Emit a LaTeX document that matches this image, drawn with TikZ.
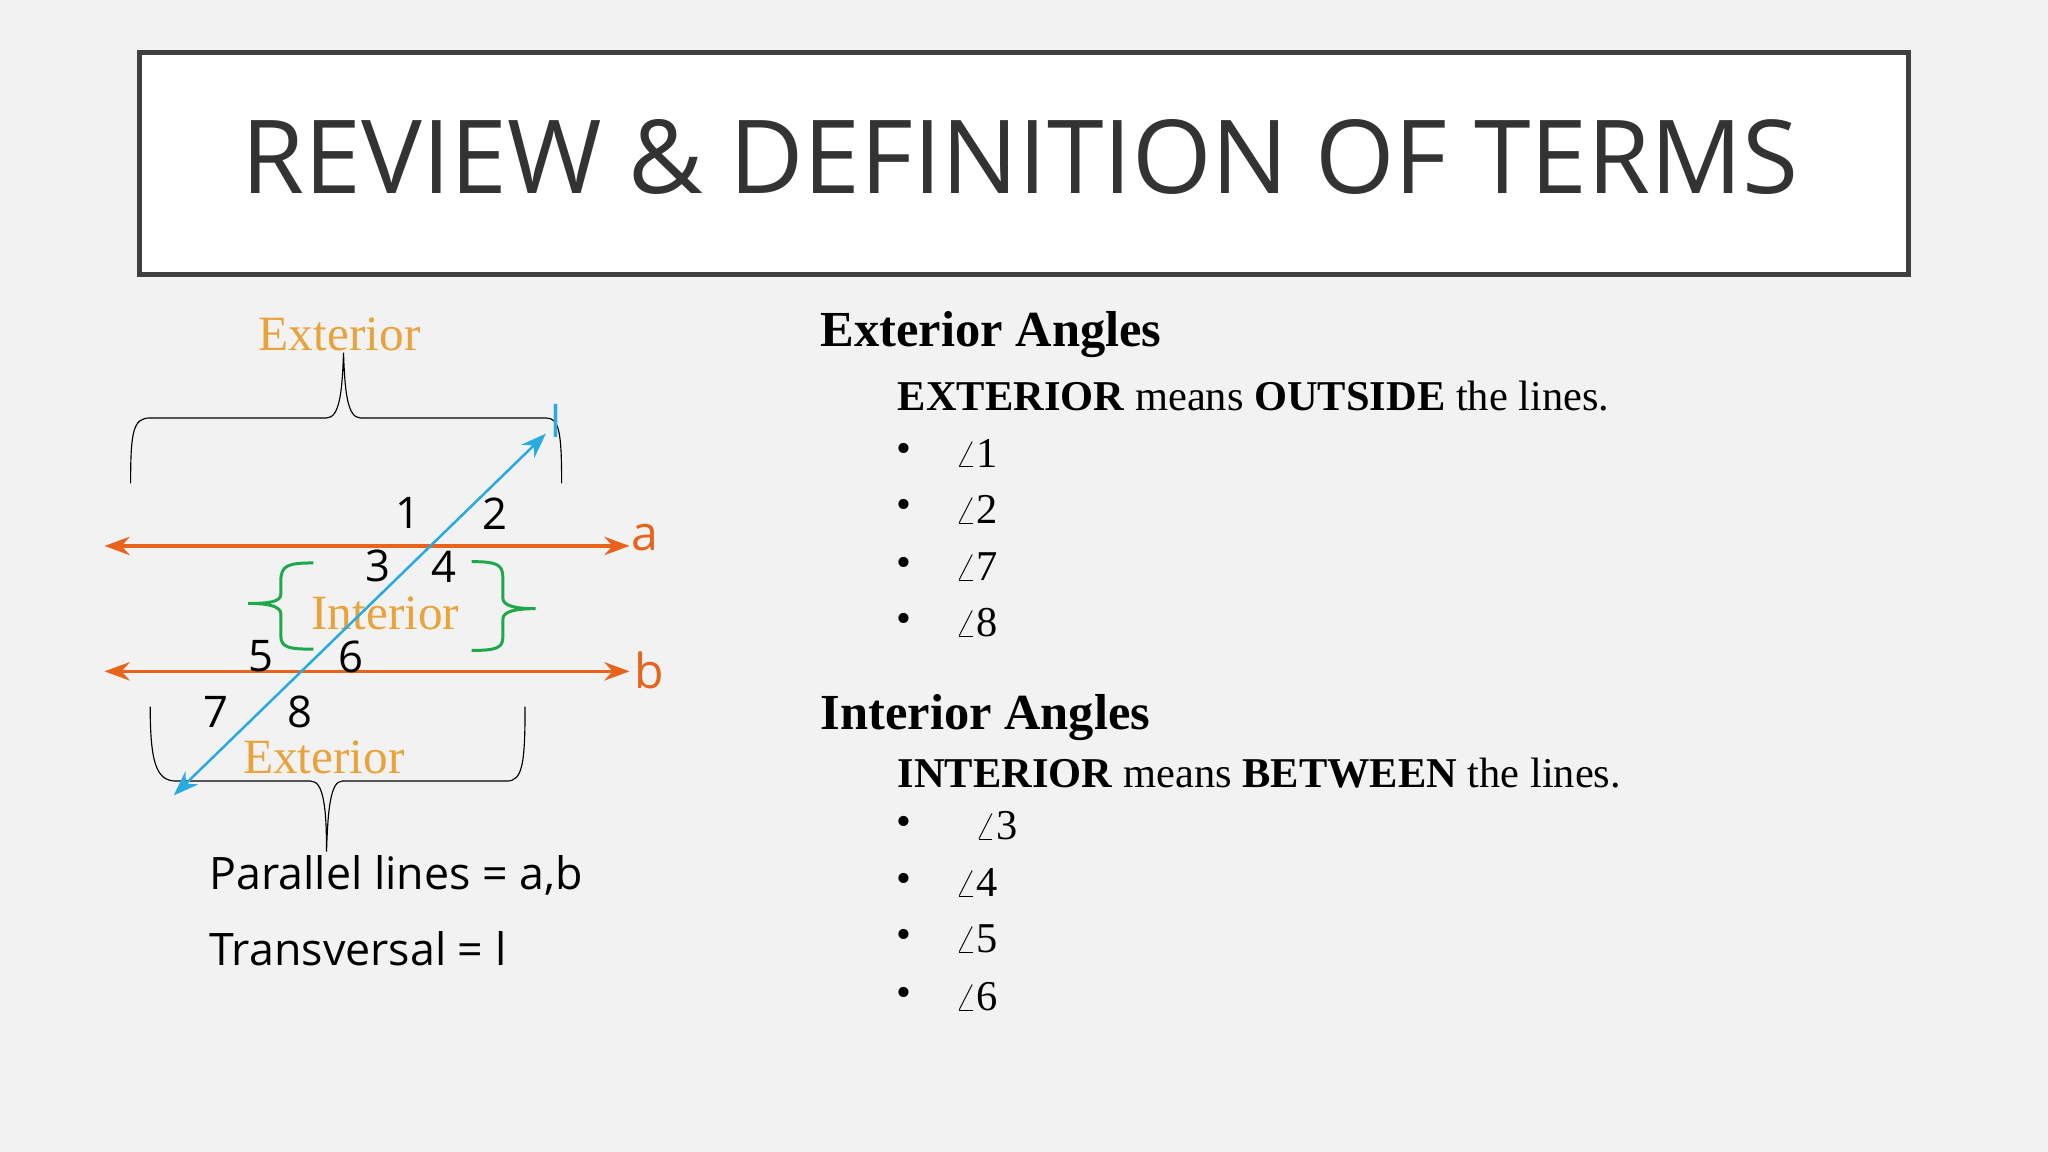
\documentclass[tikz,border=0pt]{standalone}
\usepackage{fontspec}
\setmainfont{Liberation Serif}
\setsansfont{Open Sans}
\usetikzlibrary{arrows.meta}
\definecolor{bg}{HTML}{F2F2F2}
\definecolor{frame}{HTML}{404040}
\definecolor{ora}{HTML}{E8A33C}
\definecolor{red1}{HTML}{E8631C}
\definecolor{blu}{HTML}{29ABE2}
\definecolor{grn}{HTML}{1EA84A}
\tikzset{
 lab/.style={font=\rmfamily\fontsize{21.5}{24}\selectfont,text=ora,inner sep=0pt},
 num/.style={font=\sffamily\fontsize{19}{22}\selectfont,inner sep=0pt},
 tip/.style={{Stealth[length=11pt,width=8pt]}-{Stealth[length=11pt,width=8pt]}},
 par/.style={draw=red1,line width=1.4pt,tip},
 brace/.style={draw=black,line width=0.5pt},
 gbr/.style={draw=grn,line width=1.3pt},
 head/.style={font=\rmfamily\bfseries\fontsize{22}{26}\selectfont,anchor=west,inner sep=0pt},
 body/.style={font=\rmfamily\fontsize{18.5}{22}\selectfont,anchor=west,inner sep=0pt},
 side/.style={font=\sffamily\fontsize{19.5}{24}\selectfont,anchor=west,inner sep=0pt},
}
\begin{document}
\begin{tikzpicture}[x=0.02cm,y=-0.02cm]
\fill[bg] (0,0) rectangle (1568,882);
\useasboundingbox (0,0) rectangle (1568,882);
\node[draw=frame,line width=2pt,fill=white,minimum width=1354*0.02cm,minimum height=170*0.02cm,inner sep=0pt] (title) at (784,125) {};
\node[font=\sffamily\fontsize{44.5}{50}\selectfont,text=black!80] (tt) at (781,120) {REVIEW \& DEFINITION OF TERMS};
% braces
\draw[brace] (100,370) .. controls (100,330) and (102,320) .. (115,320) -- (250,320) .. controls (260,320) and (262,300) .. (263,270) .. controls (264,300) and (266,320) .. (276,320) -- (418,320) .. controls (428,320) and (430,330) .. (430,370);
\draw[brace] (115,541) .. controls (115,585) and (120,598) .. (135,598) -- (238,598) .. controls (248,598) and (250,620) .. (250,652) .. controls (251,620) and (253,598) .. (262,598) -- (388,598) .. controls (400,598) and (402,585) .. (402,541);
\draw[gbr] (240,431) .. controls (220,431) and (215,433) .. (215,445) -- (215,455) .. controls (215,461) and (205,462) .. (190,462) .. controls (205,462) and (215,464) .. (215,470) -- (215,487) .. controls (215,496) and (222,497) .. (240,497);
\draw[gbr] (361,430) .. controls (380,430) and (385,432) .. (385,442) -- (385,458) .. controls (385,464) and (395,466) .. (410,466) .. controls (395,466) and (385,468) .. (385,474) -- (385,488) .. controls (385,496) and (380,498) .. (361,498);
% labels
\node[lab] (ext1) at (260,256) {Exterior};
\node[lab] (int) at (295,470) {Interior};
\node[lab] (ext2) at (248,580) {Exterior};
% lines
\coordinate (a1) at (80,418); \coordinate (a2) at (482,418);
\coordinate (b1) at (80,514); \coordinate (b2) at (482,514);
\coordinate (l1) at (133,609); \coordinate (l2) at (418,332);
\draw[par] (a1) -- (a2);
\draw[par] (b1) -- (b2);
\draw[draw=blu,line width=1.1pt,tip] (l1) -- (l2);
\node[font=\sffamily\fontsize{21}{24}\selectfont,text=red1,inner sep=0pt] (la) at (494,412) {a};
\node[font=\sffamily\fontsize{21}{24}\selectfont,text=red1,inner sep=0pt] (lb) at (497,513) {b};
\node[font=\sffamily\fontsize{19}{22}\selectfont,text=blu,inner sep=0pt] (ll) at (426,322) {l};
\node[num] (n1) at (312,393) {1};
\node[num] (n2) at (379,393) {2};
\node[num] (n3) at (289,433) {3};
\node[num] (n4) at (340,434) {4};
\node[num] (n5) at (200,502) {5};
\node[num] (n6) at (269,503) {6};
\node[num] (n7) at (165,545) {7};
\node[num] (n8) at (230,545) {8};
\node[side] (p1) at (160,670) {Parallel lines = a,b};
\node[side] (p2) at (160,726) {Transversal = l};
% right text
\node[head] (h1) at (628,256) {Exterior Angles};
\node[body] (d1) at (687,303) {\textbf{EXTERIOR} means \textbf{OUTSIDE} the lines.};
\node[head] (h2) at (628,549) {Interior Angles};
\node[body] (d2) at (687,592) {\textbf{INTERIOR} means \textbf{BETWEEN} the lines.};
\foreach \y/\t/\x in {347/1/731,390/2/731,434/7/731,477/8/731,632/3/746,676/4/731,719/5/731,763/6/731}{
 \node[body] (bul\t) at (686,\y) {\textbullet};
 \node[body] (ang\t) at (\x,\y) {$\angle$\t};
}
\end{tikzpicture}
\end{document}
